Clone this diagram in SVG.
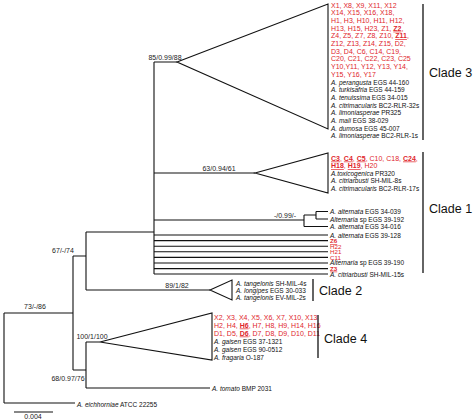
<svg xmlns="http://www.w3.org/2000/svg" width="474" height="420" viewBox="0 0 474 420">
<style>
text{font-family:"Liberation Sans",Arial,sans-serif;}
.t{font-size:6.5px;fill:#111;}
.r{font-size:7px;fill:#e0252b;}
.rs{font-size:6.2px;fill:#e0252b;}
.i{font-style:italic;}
.u{text-decoration:underline;font-weight:bold;}
.bs{font-size:7px;fill:#222;}
.cl{font-size:12.5px;fill:#111;}
.br{stroke:#111;stroke-width:1.1;fill:none;}
.tri{stroke:#111;stroke-width:1.1;fill:#fff;}
.bar{stroke:#111;stroke-width:1.3;}
</style>
<rect width="474" height="420" fill="#fff"/>
<g id="connectors" class="br">
<path d="M4,313 V403 M4,313 H73 M4,403 H75"/>
<path d="M73,256 V370 M73,256 H86 M73,370 H86"/>
<path d="M86,232 V290 M86,232 H154 M86,290 H210"/>
<path d="M86,342 V388 M86,342 H100 M86,388 H210"/>
<path d="M154,62 V274 M154,62 H177 M154,173 H255 M154,220 H304"/>
<path d="M304,215 V226.5 M304,215 H316 M304,226.5 H328 M316,211.5 V219 M316,211.5 H328 M316,219 H328"/>
<path d="M154,235 H328 M154,240.6 H328 M154,246.2 H328 M154,251.8 H328 M154,257.4 H328 M154,263 H328 M154,268.6 H328 M154,274 H328"/>
<path d="M14,412 H53"/>
</g>
<g id="support">
<text class="bs" x="35" y="309" text-anchor="middle">73/-/86</text>
<text class="bs" x="63" y="253" text-anchor="middle">67/-/74</text>
<text class="bs" x="68" y="381" text-anchor="middle">68/0.97/76</text>
<text class="bs" x="92" y="339" text-anchor="middle">100/1/100</text>
<text class="bs" x="177" y="288" text-anchor="middle">89/1/82</text>
<text class="bs" x="165" y="60" text-anchor="middle">85/0.99/88</text>
<text class="bs" x="219" y="171" text-anchor="middle">63/0.94/61</text>
<text class="bs" x="285" y="218" text-anchor="middle">-/0.99/-</text>
<text class="bs" x="33" y="419" text-anchor="middle">0.004</text>
</g>
<g id="clade3">
<polygon class="tri" points="177,62 328,4 328,129"/>
<text class="r" x="331" y="7.5">X1, X8, X9, X11, X12</text>
<text class="r" x="331" y="15.2">X14, X15, X16, X18,</text>
<text class="r" x="331" y="22.9">H1, H3, H10, H11, H12,</text>
<text class="r" x="331" y="30.6">H13, H15, H23, Z1, <tspan class="u">Z2</tspan>,</text>
<text class="r" x="331" y="38.3">Z4, Z5, Z7, Z8, Z10, <tspan class="u">Z11</tspan>,</text>
<text class="r" x="331" y="46">Z12, Z13, Z14, Z15, D2,</text>
<text class="r" x="331" y="53.7">D3, D4, C6, C14, C19,</text>
<text class="r" x="331" y="61.4">C20, C21, C22, C23, C25</text>
<text class="r" x="331" y="69.1">Y10,Y11, Y12, Y13, Y14,</text>
<text class="r" x="331" y="76.8">Y15, Y16, Y17</text>
<text class="t" x="331" y="84.5"><tspan class="i">A. perangusta</tspan> EGS 44-160</text>
<text class="t" x="331" y="92.2"><tspan class="i">A. turkisafria</tspan> EGS 44-159</text>
<text class="t" x="331" y="99.9"><tspan class="i">A. tenuissima</tspan> EGS 34-015</text>
<text class="t" x="331" y="107.6"><tspan class="i">A. citrimacularis</tspan> BC2-RLR-32s</text>
<text class="t" x="331" y="115.3"><tspan class="i">A. limoniasperae</tspan> PR325</text>
<text class="t" x="331" y="123"><tspan class="i">A. mali</tspan> EGS 38-029</text>
<text class="t" x="331" y="130.7"><tspan class="i">A. dumosa</tspan> EGS 45-007</text>
<text class="t" x="331" y="138.4"><tspan class="i">A. limoniasperae</tspan> BC2-RLR-1s</text>
<line class="bar" x1="423" y1="4" x2="423" y2="140"/>
<text class="cl" x="429" y="77">Clade 3</text>
</g>
<g id="clade1-triangle">
<polygon class="tri" points="255,173 328,153 328,193"/>
<text class="r" x="331" y="160.5"><tspan class="u">C3</tspan>, <tspan class="u">C4</tspan>, <tspan class="u">C5</tspan>, C10, C18, <tspan class="u">C24</tspan>,</text>
<text class="r" x="331" y="168"><tspan class="u">H18</tspan>, <tspan class="u">H19</tspan>, H20</text>
<text class="t" x="331" y="175.5"><tspan class="i">A.toxicogenica</tspan> PR320</text>
<text class="t" x="331" y="183"><tspan class="i">A. citriarbusti</tspan> SH-MIL-8s</text>
<text class="t" x="331" y="190.5"><tspan class="i">A. citrimacularis</tspan> BC2-RLR-17s</text>
</g>
<g id="clade1-leaves">
<text class="t" x="330" y="214"><tspan class="i">A. alternata</tspan> EGS 34-039</text>
<text class="t" x="330" y="221.5"><tspan class="i">Alternaria</tspan> sp EGS 39-192</text>
<text class="t" x="330" y="229"><tspan class="i">A. alternata</tspan> EGS 34-016</text>
<text class="t" x="330" y="237.5"><tspan class="i">A. alternata</tspan> EGS 39-128</text>
<text class="rs" x="330" y="243"><tspan class="u">Z6</tspan></text>
<text class="rs" x="330" y="248.5">H22</text>
<text class="rs" x="330" y="254">H21</text>
<text class="rs" x="330" y="259.6">C11</text>
<text class="t" x="330" y="265.2"><tspan class="i">Alternaria</tspan> sp EGS 39-190</text>
<text class="rs" x="330" y="270.6"><tspan class="u">Z3</tspan></text>
<text class="t" x="330" y="276.6"><tspan class="i">A. citriarbusti</tspan> SH-MIL-15s</text>
<line class="bar" x1="423" y1="152" x2="423" y2="273"/>
<text class="cl" x="429" y="213">Clade 1</text>
</g>
<g id="clade2">
<polygon class="tri" points="210,290 232,280 232,300"/>
<text class="t" x="236" y="286"><tspan class="i">A. tangelonis</tspan> SH-MIL-4s</text>
<text class="t" x="236" y="293"><tspan class="i">A. longipes</tspan> EGS 30-033</text>
<text class="t" x="236" y="300"><tspan class="i">A. tangelonis</tspan> EV-MIL-2s</text>
<line class="bar" x1="313" y1="279" x2="313" y2="301"/>
<text class="cl" x="319" y="295">Clade 2</text>
</g>
<g id="clade4">
<polygon class="tri" points="100,342 212,313 212,360"/>
<text class="r" x="214" y="319.5">X2, X3, X4, X5, X6, X7, X10, X13</text>
<text class="r" x="214" y="327.5">H2, H4, <tspan class="u">H6</tspan>, H7, H8, H9, H14, H16</text>
<text class="r" x="214" y="335.5">D1, D5, <tspan class="u">D6</tspan>, D7, D8, D9, D10, D11</text>
<text class="t" x="214" y="343.5"><tspan class="i">A. gaisen</tspan> EGS 37-1321</text>
<text class="t" x="214" y="351.5"><tspan class="i">A. gaisen</tspan> EGS 90-0512</text>
<text class="t" x="214" y="359.5"><tspan class="i">A. fragaria</tspan> O-187</text>
<line class="bar" x1="318" y1="315" x2="318" y2="358"/>
<text class="cl" x="324" y="343">Clade 4</text>
</g>
<g id="outgroups">
<text class="t" x="212" y="390.5"><tspan class="i">A. tomato</tspan> BMP 2031</text>
<text class="t" x="77" y="407"><tspan class="i">A. eichhorniae</tspan> ATCC 22255</text>
</g>
</svg>
